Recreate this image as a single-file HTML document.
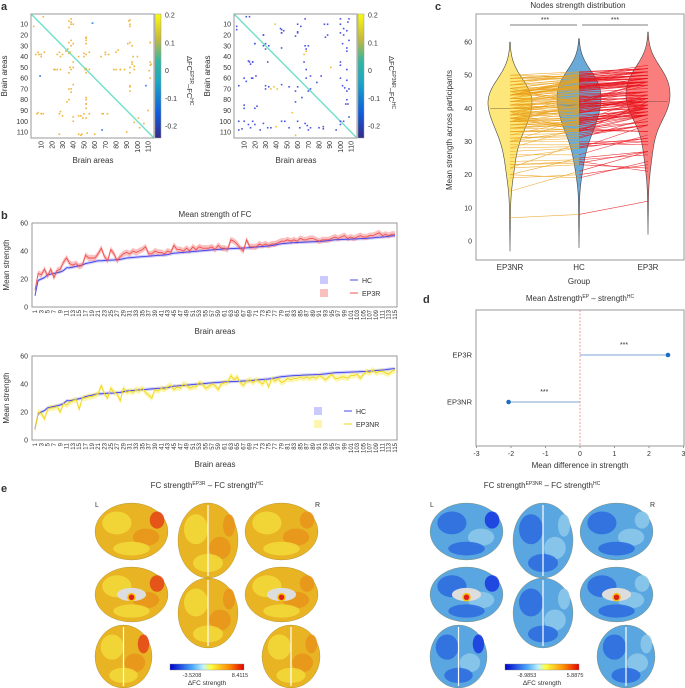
<!DOCTYPE html>
<html><head><meta charset="utf-8"><style>
body{margin:0;background:#fff;}
svg{display:block;font-family:"Liberation Sans",sans-serif;}
text{fill:#333;}
</style></head><body>
<svg id="fig" width="685" height="688" viewBox="0 0 685 688" xmlns="http://www.w3.org/2000/svg">
<defs>
<linearGradient id="parula" x1="0" y1="1" x2="0" y2="0">
<stop offset="0" stop-color="#352a87"/><stop offset="0.2" stop-color="#0f5cdd"/><stop offset="0.45" stop-color="#1aa7c6"/><stop offset="0.62" stop-color="#33b7a0"/><stop offset="0.8" stop-color="#c8b93a"/><stop offset="1" stop-color="#f9fb0e"/>
</linearGradient>
<linearGradient id="jet" x1="0" y1="0" x2="1" y2="0">
<stop offset="0" stop-color="#0000c8"/><stop offset="0.3" stop-color="#4aa8ff"/><stop offset="0.45" stop-color="#bff4ff"/><stop offset="0.55" stop-color="#ffff40"/><stop offset="0.8" stop-color="#ff8a00"/><stop offset="1" stop-color="#e00000"/>
</linearGradient>
</defs>
<g id="panelA"></g><g id="panelB"></g><g id="panelC"></g><g id="panelD"></g><g id="panelE"></g>
</svg>
<script>
const areas = Array.from({length:115},(_, i)=>i+1);
const hcStrength = [8,19,20,21,23,23.5,24,24.5,25,26,28,28,28.5,29,29.5,30,31,31.5,32,32.5,33,33,33.2,33.4,33.5,33.6,33.8,34,34.5,35,35.2,35.4,35.6,35.8,36,36.1,36.3,36.5,36.7,36.9,37,37.2,37.4,38,38.5,38.6,38.8,39,39.2,39.4,39.6,39.8,40,40.2,40.4,40.6,40.8,41,41.1,41.3,41.5,41.6,41.7,41.8,41.9,42,42.1,42.2,42.4,42.6,42.8,43,43.2,43.4,43.6,43.9,44.3,44.8,45.2,45.4,45.6,45.8,46,46.1,46.2,46.3,46.4,46.5,46.6,46.7,46.8,47,47.2,47.5,47.8,48,48.1,48.2,48.3,48.4,48.5,48.6,48.7,48.8,48.9,49,49.2,49.4,49.6,49.8,50,50.2,50.5,50.8,51];
const ep3rStrength = [12,24,23,27,22,27,21,26,27,32,35,31,30,31,29,30,37,35,35,35,38,42,36,33,41,38,33,36,38,39,38,40,39,40,41,43,38,38,40,39,39,38,40,39,44,41,41,40,42,40,43,41,43,42,42,42,43,41,44,42,42,41,48,47,45,42,40,48,43,43,43,45,44,45,44,45,45,46,47,47,48,47,48,47,49,48,48,49,49,48,47,48,48,48,49,50,49,50,51,49,50,49,50,51,50,50,51,51,52,53,51,52,51,52,52];
const ep3nrStrength = [7,20,19,15,22,23,23,24,20,26,25,27,28,29,22,30,30,31,31,32,33,39,33,30,37,34,33,28,37,34,35,34,36,35,37,34,32,30,36,35,37,36,38,39,36,38,37,40,39,37,38,38,41,40,37,38,40,39,36,40,41,41,46,43,45,41,39,42,43,41,43,42,40,43,38,44,42,44,41,42,44,43,44,44,45,44,45,44,45,44,46,45,43,45,47,44,44,45,45,44,46,46,47,44,47,49,48,50,48,49,49,48,47,49,50];
const diffGroups = ["EP3R","EP3NR"];
const diffValues = [2.55, -2.07];
const cellsEP3R = [[3,12],[5,38],[8,38],[10,40],[12,93],[6,93],[25,38],[28,40],[22,52],[25,52],[27,93],[36,7],[38,10],[36,13],[36,27],[38,30],[35,33],[36,37],[38,52],[36,55],[36,70],[38,73],[34,82],[40,96],[45,40],[50,37],[50,40],[52,23],[52,28],[51,52],[52,80],[52,84],[50,93],[49,97],[45,95],[48,112],[55,52],[66,40],[70,38],[68,93],[80,36],[78,52],[84,52],[88,52],[92,7],[93,10],[91,28],[95,30],[93,55],[93,67],[93,72],[97,52],[95,47],[100,40],[101,97],[102,106],[112,27],[113,47],[111,53],[110,90],[27,112],[45,112],[60,112]];
const cellsEP3RNeg = [[9,58],[58,9],[67,108],[108,67]];
const cellsEP3NR = [[3,12],[3,15],[15,45],[18,45],[12,63],[17,60],[16,47],[5,67],[10,88],[20,88],[5,100],[18,100],[16,106],[8,107],[28,30],[30,33],[28,20],[20,28],[44,14],[45,18],[45,32],[48,100],[52,106],[60,10],[60,18],[58,21],[60,68],[58,72],[64,78],[68,33],[66,45],[68,52],[67,102],[72,106],[72,70],[82,58],[86,22],[85,10],[100,10],[103,20],[102,28],[106,32],[100,45],[106,62],[104,69],[108,70],[100,100],[106,80],[107,84],[84,105],[100,103],[103,14],[108,5],[96,108],[60,100],[30,70],[30,67],[25,108],[35,106]];
const cellsEP3NRPos = [[38,66],[35,68],[70,35],[68,38],[10,39],[70,41],[92,55],[50,91],[113,58],[105,40]];

const NS='http://www.w3.org/2000/svg';
function el(parent, tag, attrs, txt){const e=document.createElementNS(NS,tag);for(const k in attrs)e.setAttribute(k,attrs[k]);if(txt!==undefined)e.textContent=txt;parent.appendChild(e);return e;}

/* ---------- Panel A ---------- */
const A=document.getElementById('panelA');
const lblA=el(A,'text',{x:1,y:10,'font-size':11,'font-weight':'bold',fill:'#000'},'a');


function heatmap(x0,label,posCells,negCells,cbLabelSup,cbX){
  const y0=14,W=123,H=124;
  const sx=i=>x0+(i-0.5)*W/115, sy=i=>y0+(i-0.5)*H/115;
  const g=el(A,'g',{});
  
  
  el(g,'rect',{x:x0,y:y0,width:W,height:H,fill:'#fff',stroke:'#999','stroke-width':1});
  const diag=el(g,'line',{x1:sx(1),y1:sy(1),x2:sx(115),y2:sy(115),stroke:'#6fe0c8','stroke-width':1.4});
  
  
  posCells.forEach(c=>{
    [[c[0],c[1]],[c[1],c[0]]].forEach(p=>{
      const r=el(g,'rect',{x:sx(p[1])-0.8,y:sy(p[0])-0.8,width:1.6,height:1.6,fill:label==='ep3r'?'#f0b43a':'#f2c23a'});
      
      
    });
  });
  negCells.forEach(c=>{
    [[c[0],c[1]],[c[1],c[0]]].forEach(p=>{
      const r=el(g,'rect',{x:sx(p[1])-0.8,y:sy(p[0])-0.8,width:1.6,height:1.6,fill:label==='ep3r'?'#4a90e8':'#4a55e0'});
      
      
    });
  });
  for(let t=10;t<=110;t+=10){
    el(g,'text',{x:x0-3,y:sy(t)+2.5,'font-size':7,'text-anchor':'end'},t);
    el(g,'text',{x:0,y:0,'font-size':7,'text-anchor':'end',transform:`translate(${sx(t)+2.5},${y0+H+3}) rotate(-90)`},t);
  }
  const cb=el(g,'rect',{x:x0+W+1,y:y0,width:6,height:H,fill:'url(#parula)',stroke:'#999','stroke-width':0.5});
  
  
  const cbVals=[0.2,0.1,0,-0.1,-0.2];
  cbVals.forEach(v=>{const yy=y0+1+(0.2-v)/0.4*111;el(g,'text',{x:x0+W+11,y:yy+2.5,'font-size':7},v);});
  const cl=el(g,'text',{x:0,y:0,'font-size':7.5,transform:`translate(${cbX},${y0+42}) rotate(90)`});
  el(cl,'tspan',{},'ΔFC');el(cl,'tspan',{dy:-3,'font-size':5},cbLabelSup);el(cl,'tspan',{dy:3},'–FC');el(cl,'tspan',{dy:-3,'font-size':5},'HC');
  const yl=el(g,'text',{x:0,y:0,'font-size':8,'text-anchor':'middle',transform:`translate(${x0-24},${y0+62}) rotate(-90)`},'Brain areas');
  
  
  const xl=el(g,'text',{x:x0+62,y:163,'font-size':8,'text-anchor':'middle'},'Brain areas');
  
  
}
heatmap(31,'ep3r',cellsEP3R,cellsEP3RNeg,'EP3R',187);
heatmap(234,'ep3nr',cellsEP3NR.filter(()=>false),cellsEP3NR,'EP3NR',389);
/* re-add pos cells for ep3nr as orange */
(function(){const x0=234,y0=14,W=123,H=124;const sx=i=>x0+(i-0.5)*W/115, sy=i=>y0+(i-0.5)*H/115;
cellsEP3NRPos.forEach(c=>{const r=el(A,'rect',{x:sx(c[1])-0.8,y:sy(c[0])-0.8,width:1.6,height:1.6,fill:'#f2c23a'});

});})();

/* ---------- Panel B ---------- */
const B=document.getElementById('panelB');
const lblB=el(B,'text',{x:1,y:219,'font-size':11,'font-weight':'bold',fill:'#000'},'b');


const bt=el(B,'text',{x:215,y:217,'font-size':8,'text-anchor':'middle'},'Mean strength of FC');


function lineChart(y0,epData,epColor,epBand,epName,legX,legY){
  const x0=32,x1=397,H=84;
  const sx=i=>x0+3+(i-1)*(x1-x0-5)/114, sy=v=>y0+H-v*H/60;
  const g=el(B,'g',{});
  
  
  el(g,'rect',{x:x0,y:y0,width:x1-x0,height:H,fill:'#fff',stroke:'#999','stroke-width':1});
  [0,20,40,60].forEach(t=>el(g,'text',{x:x0-4,y:sy(t)+2.5,'font-size':7,'text-anchor':'end'},t));
  areas.forEach((a,i)=>{ if(a%2===1) el(g,'text',{x:0,y:0,'font-size':6,'text-anchor':'end',transform:`translate(${sx(a)+2},${y0+H+3}) rotate(-90)`},a); });
  function band(data,w,fill){
    let d='M'+data.map((v,i)=>sx(areas[i])+','+sy(v+w)).join('L');
    d+='L'+data.slice().reverse().map((v,j)=>sx(areas[data.length-1-j])+','+sy(v-w)).join('L')+'Z';
    return el(g,'path',{d,fill,stroke:'none'});
  }
  const b1=band(hcStrength,1.2,'rgba(150,150,255,0.45)');
  
  
  const b2=band(epData,2.2,epBand);
  
  
  const l1=el(g,'polyline',{points:hcStrength.map((v,i)=>sx(areas[i])+','+sy(v)).join(' '),fill:'none',stroke:'#4a4ae8','stroke-width':1});
  
  
  const l2=el(g,'polyline',{points:epData.map((v,i)=>sx(areas[i])+','+sy(v)).join(' '),fill:'none',stroke:epColor,'stroke-width':0.9});
  
  
  const lg=el(g,'g',{});
  
  
  el(lg,'rect',{x:legX,y:legY,width:8,height:8,fill:'rgba(150,150,255,0.5)'});
  el(lg,'rect',{x:legX,y:legY+13,width:8,height:8,fill:epBand});
  el(lg,'line',{x1:legX+30,y1:legY+4,x2:legX+38,y2:legY+4,stroke:'#4a4ae8'});
  el(lg,'line',{x1:legX+30,y1:legY+17,x2:legX+38,y2:legY+17,stroke:epColor});
  el(lg,'text',{x:legX+42,y:legY+7,'font-size':7},'HC');
  el(lg,'text',{x:legX+42,y:legY+20,'font-size':7},epName);
  const ylab=el(g,'text',{x:0,y:0,'font-size':8,'text-anchor':'middle',transform:`translate(9,${y0+H/2}) rotate(-90)`},'Mean strength');
  
  
  const xlab=el(g,'text',{x:215,y:y0+H+27,'font-size':8,'text-anchor':'middle'},'Brain areas');
  
  
}
lineChart(223,ep3rStrength,'#f05050','rgba(245,140,140,0.55)','EP3R',320,276);
lineChart(356,ep3nrStrength,'#f2d51a','rgba(250,240,120,0.6)','EP3NR',314,407);

/* ---------- Panel C ---------- */
const C=document.getElementById('panelC');
const lblC=el(C,'text',{x:435,y:10,'font-size':11,'font-weight':'bold',fill:'#000'},'c');


const cX0=476,cX1=685,cY0=14,cY1=260;
const cy=v=>241-v*(199/60);
const groups=['EP3NR','HC','EP3R'];
const gx=[510,579,648];
el(C,'rect',{x:cX0,y:cY0,width:cX1-cX0-1,height:cY1-cY0,fill:'#fff',stroke:'#999','stroke-width':1});
const ct=el(C,'text',{x:578,y:8,'font-size':8,'text-anchor':'middle'},'Nodes strength distribution');


[0,10,20,30,40,50,60].forEach(t=>el(C,'text',{x:cX0-4,y:cy(t)+2.5,'font-size':7,'text-anchor':'end'},t));
const cyl=el(C,'text',{x:0,y:0,'font-size':8,'text-anchor':'middle',transform:`translate(452,130) rotate(-90)`},'Mean strength across participants');


groups.forEach((gname,i)=>el(C,'text',{x:gx[i],y:270,'font-size':8,'text-anchor':'middle'},gname));
const cxl=el(C,'text',{x:579,y:284,'font-size':8,'text-anchor':'middle'},'Group');


function violin(data,xc,fill,maxW){
  const bw=4.5,pts=[];let mx=0;
  const lo=Math.min(...data)-10,hi=Math.max(...data)+10;
  for(let v=lo;v<=hi;v+=0.5){let s=0;data.forEach(d=>{s+=Math.exp(-0.5*((v-d)/bw)**2);});pts.push([v,s]);mx=Math.max(mx,s);}
  let d='M'+pts.map(p=>(xc-p[1]/mx*maxW)+','+cy(p[0])).join('L');
  d+='L'+pts.slice().reverse().map(p=>(xc+p[1]/mx*maxW)+','+cy(p[0])).join('L')+'Z';
  const v=el(C,'path',{d,fill,stroke:'#444','stroke-width':0.6});
  const sorted=data.slice().sort((a,b)=>a-b);const med=sorted[Math.floor(sorted.length/2)];
  el(C,'line',{x1:xc-maxW*0.9,x2:xc+maxW*0.9,y1:cy(med),y2:cy(med),stroke:'rgba(80,60,40,0.6)','stroke-width':0.6});
  return v;
}
const v1=violin(ep3nrStrength,gx[0],'#fde67a',22);


const v2=violin(hcStrength,gx[1],'#6aaad8',22);


const v3=violin(ep3rStrength,gx[2],'#fa7e7e',22);


areas.forEach((a,i)=>{
  const l=el(C,'line',{x1:gx[0],y1:cy(ep3nrStrength[i]),x2:gx[1],y2:cy(hcStrength[i]),stroke:'#eaa21c','stroke-width':0.6,opacity:0.85});
  
  
  const r=el(C,'line',{x1:gx[1],y1:cy(hcStrength[i]),x2:gx[2],y2:cy(ep3rStrength[i]),stroke:'#e8141c','stroke-width':0.6,opacity:0.85});
  
  
});
el(C,'path',{d:'M510,25H577M582,25H648',stroke:'#555','stroke-width':0.7});
el(C,'text',{x:545,y:22,'font-size':7,'text-anchor':'middle'},'***');
el(C,'text',{x:615,y:22,'font-size':7,'text-anchor':'middle'},'***');

/* ---------- Panel D ---------- */
const D=document.getElementById('panelD');
const lblD=el(D,'text',{x:423,y:303,'font-size':11,'font-weight':'bold',fill:'#000'},'d');


const dx=v=>580+v*34.5;
const dyPos=[355,402];
el(D,'rect',{x:476,y:310,width:208,height:136,fill:'#fff',stroke:'#999','stroke-width':1});
const dt=el(D,'text',{x:580,y:301,'font-size':8,'text-anchor':'middle'});
el(dt,'tspan',{},'Mean Δstrength');el(dt,'tspan',{dy:-3,'font-size':5},'EP');el(dt,'tspan',{dy:3},' – strength');el(dt,'tspan',{dy:-3,'font-size':5},'HC');


[-3,-2,-1,0,1,2,3].forEach(t=>{el(D,'line',{x1:dx(t),x2:dx(t),y1:446,y2:448,stroke:'#999'});el(D,'text',{x:dx(t),y:456,'font-size':7,'text-anchor':'middle'},t);});
el(D,'line',{x1:dx(0),x2:dx(0),y1:310,y2:446,stroke:'#f08080','stroke-width':0.8,'stroke-dasharray':'2,1.5'});
const dxl=el(D,'text',{x:580,y:468,'font-size':8,'text-anchor':'middle'},'Mean difference in strength');


diffGroups.forEach((g,i)=>{
  el(D,'text',{x:472,y:dyPos[i]+2.5,'font-size':7.5,'text-anchor':'end'},g);
  const ln=el(D,'line',{x1:dx(0),x2:dx(diffValues[i]),y1:dyPos[i],y2:dyPos[i],stroke:'#7fa4d8','stroke-width':0.9});
  
  
  const c=el(D,'circle',{cx:dx(diffValues[i]),cy:dyPos[i],r:2.3,fill:'#1a6fc4'});
  
  
  el(D,'text',{x:dx(diffValues[i]/2),y:dyPos[i]-8,'font-size':7,'text-anchor':'middle'},'***');
});

/* ---------- Panel E ---------- */
const E=document.getElementById('panelE');
const lblE=el(E,'text',{x:1,y:492,'font-size':11,'font-weight':'bold',fill:'#000'},'e');


function brain(x,y,w,h,base,patches,kind){
  const g=el(E,'g',{});
  
  
  el(g,'ellipse',{cx:x+w/2,cy:y+h/2,rx:w/2,ry:h/2,fill:base,stroke:'#8a7a30','stroke-width':0.3});
  patches.forEach(p=>el(g,'ellipse',{cx:x+p[0]*w,cy:y+p[1]*h,rx:p[2]*w,ry:p[3]*h,fill:p[4],opacity:0.9}));
  if(kind==='medial'){el(g,'ellipse',{cx:x+w*0.5,cy:y+h*0.5,rx:w*0.2,ry:h*0.12,fill:'#ddd'});el(g,'circle',{cx:x+w*0.5,cy:y+h*0.55,r:3.5,fill:'#e02020',stroke:'#f7c000','stroke-width':1.5});}
  if(kind==='top'||kind==='front'){el(g,'line',{x1:x+w/2,x2:x+w/2,y1:y+2,y2:y+h-2,stroke:'#fff','stroke-width':1.2});}
  return g;
}
function brainSet(off,titleSup,base,c2,c3,accent,lo,hi,cbx){
  const pos=[[off+0,503,73,57,'lateral'],[off+83,503,60,75,'top'],[off+150,503,73,57,'lateral'],[off+0,567,73,55,'medial'],[off+83,578,60,70,'top'],[off+150,567,73,55,'medial'],[off+0,625,57,63,'front'],[off+167,625,58,63,'front']];
  pos.forEach((p,k)=>brain(p[0],p[1],p[2],p[3],base,[[0.3,0.35,0.2,0.2,c2],[0.7,0.6,0.18,0.15,c3],[0.5,0.8,0.25,0.12,c2],[0.85,0.3,0.1,0.15,k%3===0?accent:c3]],p[4]));
  const t=el(E,'text',{x:off+112,y:488,'font-size':8,'text-anchor':'middle'});
  el(t,'tspan',{},'FC strength');el(t,'tspan',{dy:-3,'font-size':5},titleSup);el(t,'tspan',{dy:3},' – FC strength');el(t,'tspan',{dy:-3,'font-size':5},'HC');
  
  
  el(E,'text',{x:off,y:507,'font-size':7},'L');
  el(E,'text',{x:off+220,y:507,'font-size':7},'R');
  const cb=el(E,'rect',{x:cbx,y:664,width:74,height:6,fill:'url(#jet)',stroke:'#888','stroke-width':0.4});
  
  
  el(E,'text',{x:cbx+22,y:677,'font-size':5.5,'text-anchor':'middle'},lo);
  el(E,'text',{x:cbx+70,y:677,'font-size':5.5,'text-anchor':'middle'},hi);
  el(E,'text',{x:cbx+37,y:685,'font-size':6.5,'text-anchor':'middle'},'ΔFC strength');
}
brainSet(95,'EP3R','#e8b424','#f2d83a','#e8961c','#e44a1a','-3.5208','8.4115',170);
brainSet(430,'EP3NR','#5aa6e0','#2e6ee0','#8cc8ea','#1a3ee0','-8.9853','5.8875',505);
</script>
</body></html>
